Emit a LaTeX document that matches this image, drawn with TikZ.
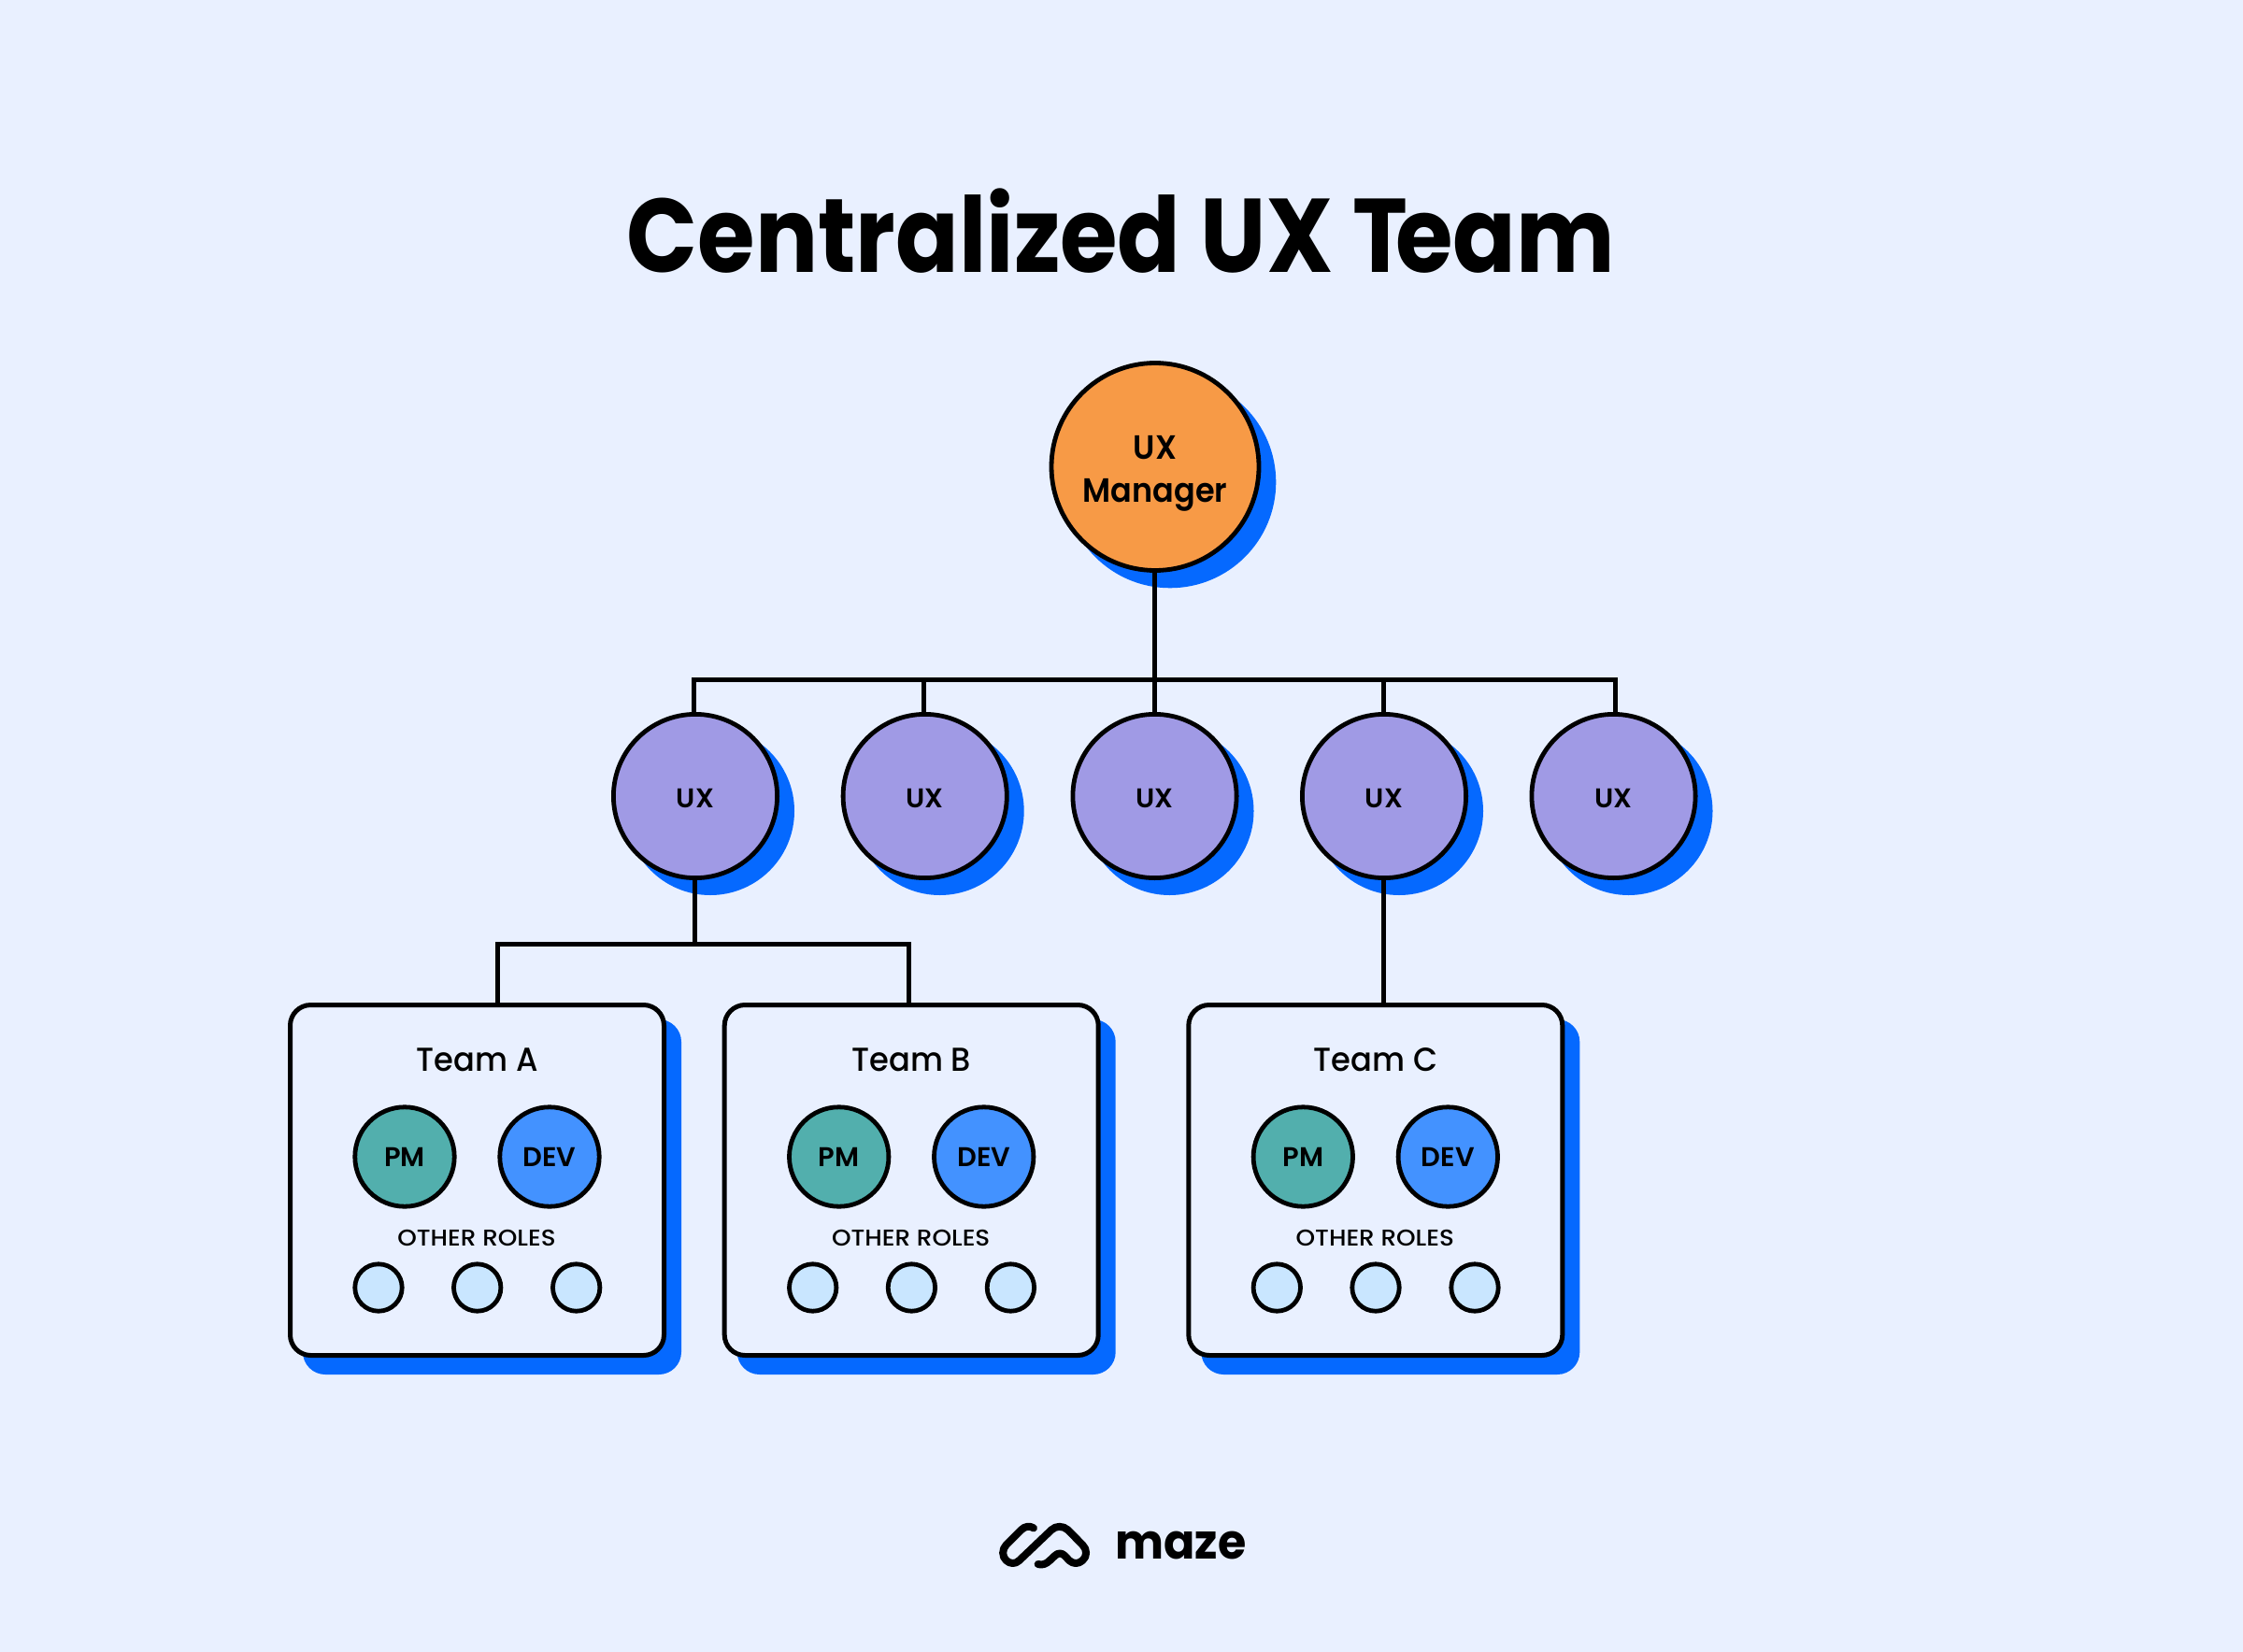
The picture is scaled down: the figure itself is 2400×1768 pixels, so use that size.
\documentclass[tikz,border=0pt]{standalone}
\usepackage{fontspec}
\setmainfont{Poppins}
\newfontfamily\titlefont[FakeStretch=0.89]{Poppins Bold}
\newfontfamily\mazefont[FakeStretch=0.945]{Poppins Bold}
\newfontfamily\semifont{Poppins SemiBold}
\newfontfamily\mgrfont[FakeStretch=0.93]{Poppins SemiBold}
\newfontfamily\medfont[FakeStretch=0.95]{Poppins Medium}
\newfontfamily\rolefont[FakeStretch=1.07]{Poppins Medium}
\definecolor{pagebg}{HTML}{E9F0FF}
\definecolor{shadowblue}{HTML}{0569FF}
\definecolor{mgrorange}{HTML}{F79A46}
\definecolor{uxpurple}{HTML}{A09AE5}
\definecolor{pmteal}{HTML}{52AFAD}
\definecolor{devblue}{HTML}{4392FF}
\definecolor{rolelight}{HTML}{C9E6FF}
\newcommand{\lowered}[1]{\raisebox{-2pt}[\height][\depth]{#1}}
\tikzset{
  circ/.style={circle,draw=black,line width=4.8pt,inner sep=0pt,text=black},
  mgrcirc/.style={circ,fill=mgrorange,minimum size=222pt},
  uxcirc/.style={circ,fill=uxpurple,minimum size=175.2pt,font=\semifont\fontsize{29}{29}\selectfont},
  pmcirc/.style={circ,fill=pmteal,minimum size=106.4pt,font=\semifont\fontsize{29}{29}\selectfont},
  devcirc/.style={circ,fill=devblue,minimum size=106.4pt,font=\semifont\fontsize{29}{29}\selectfont},
  rolecirc/.style={circ,fill=rolelight,minimum size=50.4pt},
  teambox/.style={draw=black,line width=5pt,fill=pagebg,rounded corners=22pt,minimum width=400pt,minimum height=375pt,inner sep=0pt},
  shadowdisc/.style={circle,fill=shadowblue,inner sep=0pt},
  shadowbox/.style={fill=shadowblue,rounded corners=24pt,minimum width=405pt,minimum height=380pt,inner sep=0pt},
  wire/.style={draw=black,line width=5pt,miter limit=10},
  teamtitle/.style={anchor=base,inner sep=0pt,font=\medfont\fontsize{35.5}{35.5}\selectfont},
  rolelabel/.style={anchor=base,inner sep=0pt,font=\rolefont\fontsize{24.5}{24.5}\selectfont},
}
\begin{document}
\begin{tikzpicture}[x=1pt,y=-1pt]
\useasboundingbox (0,0) rectangle (2400,1768);
\fill[pagebg] (0,0) rectangle (2400,1768);
\node[anchor=base,inner sep=0pt,font=\titlefont\fontsize{112}{112}\selectfont] (title) at (1199.5,291.5) {Centralized UX T\kern-13pt eam};

% shadows
\node[shadowdisc,minimum size=226.6pt] (mgrshadow) at (1252,516) {};
\foreach \i/\cx in {1/744,2/989.7,3/1235.5,4/1481,5/1726.5}
  \node[shadowdisc,minimum size=180pt] (uxshadow\i) at (\cx+16,868) {};
\foreach \t/\dx in {A/0,B/464.7,C/961.3}
  \node[shadowbox] (shadow\t) at (510.5+\dx+16,1281) {};

% nodes
\node[mgrcirc] (mgr) at (1236,499.5) {};
\node[align=center,inner sep=0pt,font=\mgrfont\fontsize{36}{46}\selectfont] (mgrlabel) at (1236,506.5) {UX\\Manager};
\foreach \i/\cx in {1/744,2/989.7,3/1235.5,4/1481,5/1726.5}
  \node[uxcirc] (ux\i) at (\cx,852) {\lowered{UX}};
\foreach \t/\dx in {A/0,B/464.7,C/961.3}{
  \node[teambox] (team\t) at (510.5+\dx,1263) {};
  \node[teamtitle] (title\t) at (510.5+\dx,1146) {Team \t};
  \node[pmcirc] (pm\t) at (433+\dx,1238) {PM};
  \node[devcirc] (dev\t) at (588+\dx,1238) {DEV};
  \node[rolelabel] (roles\t) at (510+\dx,1333) {OTHER ROLES};
  \node[rolecirc] (roleone\t) at (405+\dx,1378) {};
  \node[rolecirc] (roletwo\t) at (510.7+\dx,1378) {};
  \node[rolecirc] (rolethree\t) at (616.7+\dx,1378) {};
}

% connectors
\coordinate (busone) at (742.3,727);
\coordinate (bustwo) at (988.7,727);
\coordinate (busthree) at (1235.3,727);
\coordinate (busfour) at (1480.3,727);
\coordinate (busfive) at (1728.7,727);
\path[wire] (busone |- ux1.north) -- (busone) -- (busfive) -- (busfive |- ux5.north);
\path[wire] (bustwo) -- (bustwo |- ux2.north);
\path[wire] (busfour) -- (busfour |- ux4.north);
\path[wire] (busthree |- mgr.south) -- (busthree |- ux3.north);

\coordinate (forkhub) at (743.7,1010);
\coordinate (forka) at (532,1010);
\coordinate (forkb) at (972,1010);
\path[wire] (forkhub |- ux1.south) -- (forkhub);
\path[wire] (forka |- teamA.north) -- (forka) -- (forkb) -- (forkb |- teamB.north);
\path[wire] (busfour |- ux4.south) -- (busfour |- teamC.north);

% logo
\begin{scope}[shift={(1000,1580)},x=0.3333pt,y=-0.3333pt]
\draw[line width=8pt,line cap=round,line join=round]
 (318,166) .. controls (305,158) and (290,160) .. (278,172) -- (230,220)
 .. controls (216,234) and (216,258) .. (230,270)
 .. controls (242,282) and (260,282) .. (272,270) -- (375,172)
 .. controls (390,158) and (412,158) .. (428,172) -- (475,220)
 .. controls (490,234) and (490,258) .. (475,270)
 .. controls (462,282) and (445,282) .. (432,270) -- (418,255)
 .. controls (408,245) and (396,245) .. (386,255) -- (370,270)
 .. controls (358,282) and (345,286) .. (332,282);
\end{scope}
\node[anchor=base,inner sep=0pt,font=\mazefont\fontsize{52}{52}\selectfont] (maze) at (1263.5,1668) {maze};
\end{tikzpicture}
\end{document}
